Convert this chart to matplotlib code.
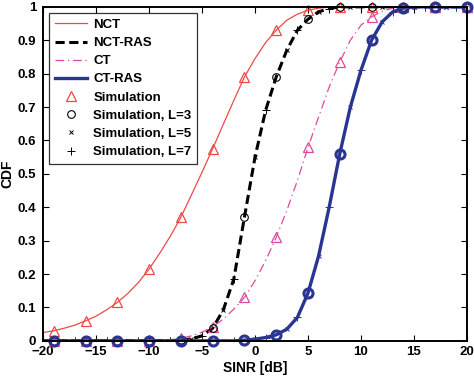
import numpy as np
import matplotlib
matplotlib.use('Agg')
import matplotlib.pyplot as plt
from matplotlib.ticker import FormatStrFormatter

plt.rcParams['font.family'] = ['Liberation Sans', 'DejaVu Sans']
plt.rcParams['font.weight'] = 'bold'

# SINR grid for the analytical curves (dB)
sinr = list(range(-20, 21))

nct = [0.025, 0.03, 0.038, 0.047, 0.06, 0.074, 0.093, 0.115, 0.142, 0.175,
       0.215, 0.262, 0.313, 0.37, 0.437, 0.505, 0.575, 0.648, 0.72, 0.79,
       0.845, 0.893, 0.93, 0.96, 0.978, 0.99, 0.996, 0.999, 1.0, 1.0,
       1.0, 1.0, 1.0, 1.0, 1.0, 1.0, 1.0, 1.0, 1.0, 1.0, 1.0]
nct_ras = [0, 0, 0, 0, 0, 0, 0, 0, 0, 0,
           0, 0, 0.001, 0.002, 0.006, 0.015, 0.038, 0.092, 0.185, 0.37,
           0.55, 0.69, 0.79, 0.87, 0.93, 0.963, 0.985, 0.995, 1.0, 1.0,
           1.0, 1.0, 1.0, 1.0, 1.0, 1.0, 1.0, 1.0, 1.0, 1.0, 1.0]
ct = [0, 0, 0, 0, 0, 0, 0, 0, 0, 0,
      0, 0.001, 0.003, 0.008, 0.015, 0.026, 0.042, 0.065, 0.095, 0.13,
      0.18, 0.24, 0.31, 0.39, 0.48, 0.579, 0.67, 0.76, 0.835, 0.9,
      0.945, 0.97, 0.987, 0.996, 1.0, 1.0, 1.0, 1.0, 1.0, 1.0, 1.0]
ct_ras = [0, 0, 0, 0, 0, 0, 0, 0, 0, 0,
          0, 0, 0, 0, 0, 0, 0, 0, 0, 0.002,
          0.005, 0.01, 0.018, 0.035, 0.07, 0.143, 0.254, 0.40, 0.56, 0.70,
          0.81, 0.90, 0.955, 0.985, 0.996, 1.0, 1.0, 1.0, 1.0, 1.0, 1.0]

# simulation points
sim_x = [-19, -16, -13, -10, -7, -4, -1, 2, 5, 8, 11, 14, 17, 20]
sim_nct = [0.03, 0.06, 0.115, 0.215, 0.37, 0.575, 0.79, 0.93, 0.99, 1.0, 1.0, 1.0, 1.0, 1.0]
sim_ct = [0, 0, 0, 0, 0.008, 0.042, 0.13, 0.31, 0.579, 0.835, 0.97, 1.0, 1.0, 1.0]
sim_nct_ras = [0, 0, 0, 0, 0.002, 0.038, 0.37, 0.79, 0.963, 1.0, 1.0, 1.0, 1.0, 1.0]
sim_ct_ras = [0, 0, 0, 0, 0, 0, 0.002, 0.018, 0.143, 0.56, 0.90, 0.996, 1.0, 1.0]

l5_x = [-18, -15, -12, -9, -6, -3, 0, 3, 6, 9, 12, 15, 18]
l5_nct_ras = [0, 0, 0, 0, 0.006, 0.092, 0.55, 0.87, 0.985, 1.0, 1.0, 1.0, 1.0]
l5_ct_ras = [0, 0, 0, 0, 0, 0, 0.005, 0.035, 0.254, 0.70, 0.955, 1.0, 1.0]

l7_x = [-17, -14, -11, -8, -5, -2, 1, 4, 7, 10, 13, 16, 19]
l7_nct_ras = [0, 0, 0, 0, 0.015, 0.185, 0.69, 0.93, 0.995, 1.0, 1.0, 1.0, 1.0]
l7_ct_ras = [0, 0, 0, 0, 0, 0, 0.01, 0.07, 0.40, 0.81, 0.985, 1.0, 1.0]

red = '#f04848'
pink = '#e0489c'
navy = '#2a3592'

fig = plt.figure(figsize=(4.74, 3.8), dpi=100)
ax = fig.add_axes([0.091, 0.103, 0.894, 0.879])

ax.plot(sinr, nct, '-', color=red, lw=0.9, label='NCT')
ax.plot(sinr, nct_ras, '--', color='black', lw=2.2, dashes=(3, 1.5), label='NCT-RAS')
ax.plot(sinr, ct, '-.', color=pink, lw=0.9, dashes=(7, 3, 1, 3), label='CT')
ax.plot(sinr, ct_ras, '-', color=navy, lw=2.4, label='CT-RAS')

ax.plot(sim_x, sim_nct, '^', mfc='none', mec=red, ms=7, mew=0.9, label='Simulation', clip_on=False)
ax.plot(sim_x, sim_ct, '^', mfc='none', mec=pink, ms=7, mew=0.9, clip_on=False)
ax.plot(sim_x, sim_nct_ras, 'o', mfc='none', mec='black', ms=5.5, mew=0.8, label='Simulation, L=3', clip_on=False)
ax.plot(sim_x, sim_ct_ras, 'o', mfc='none', mec=navy, ms=6.5, mew=2.2, clip_on=False)
ax.plot(l5_x, l5_nct_ras, 'x', color='black', ms=3.5, mew=0.7, label='Simulation, L=5')
ax.plot(l5_x, l5_ct_ras, 'x', color=navy, ms=3.5, mew=0.7)
ax.plot(l7_x, l7_nct_ras, '+', color='black', ms=5.5, mew=0.7, label='Simulation, L=7')
ax.plot(l7_x, l7_ct_ras, '+', color=navy, ms=5.5, mew=0.7)

ax.set_xlim(-20, 20)
ax.set_ylim(0, 1)
ax.set_xticks(np.arange(-20, 21, 5))
ax.set_yticks(np.arange(0, 1.01, 0.1))
ax.yaxis.set_major_formatter(FormatStrFormatter('%g'))
ax.tick_params(direction='in', top=True, right=True, labelsize=9.5, length=4, width=0.8)
ax.tick_params(axis='x', pad=4)
ax.tick_params(axis='y', pad=5)
for s in ax.spines.values():
    s.set_linewidth(1.4)
ax.set_xlabel('SINR [dB]', fontsize=10, fontweight='bold', labelpad=2)
ax.set_ylabel('CDF', fontsize=10, fontweight='bold', labelpad=2)

leg = ax.legend(loc='upper left', fontsize=9.5, frameon=True, fancybox=False,
                edgecolor='black', handlelength=2.4, borderaxespad=0.45,
                labelspacing=0.45, borderpad=0.45, handletextpad=0.5)
leg.get_frame().set_linewidth(0.9)

fig.savefig('out.png', dpi=100)
